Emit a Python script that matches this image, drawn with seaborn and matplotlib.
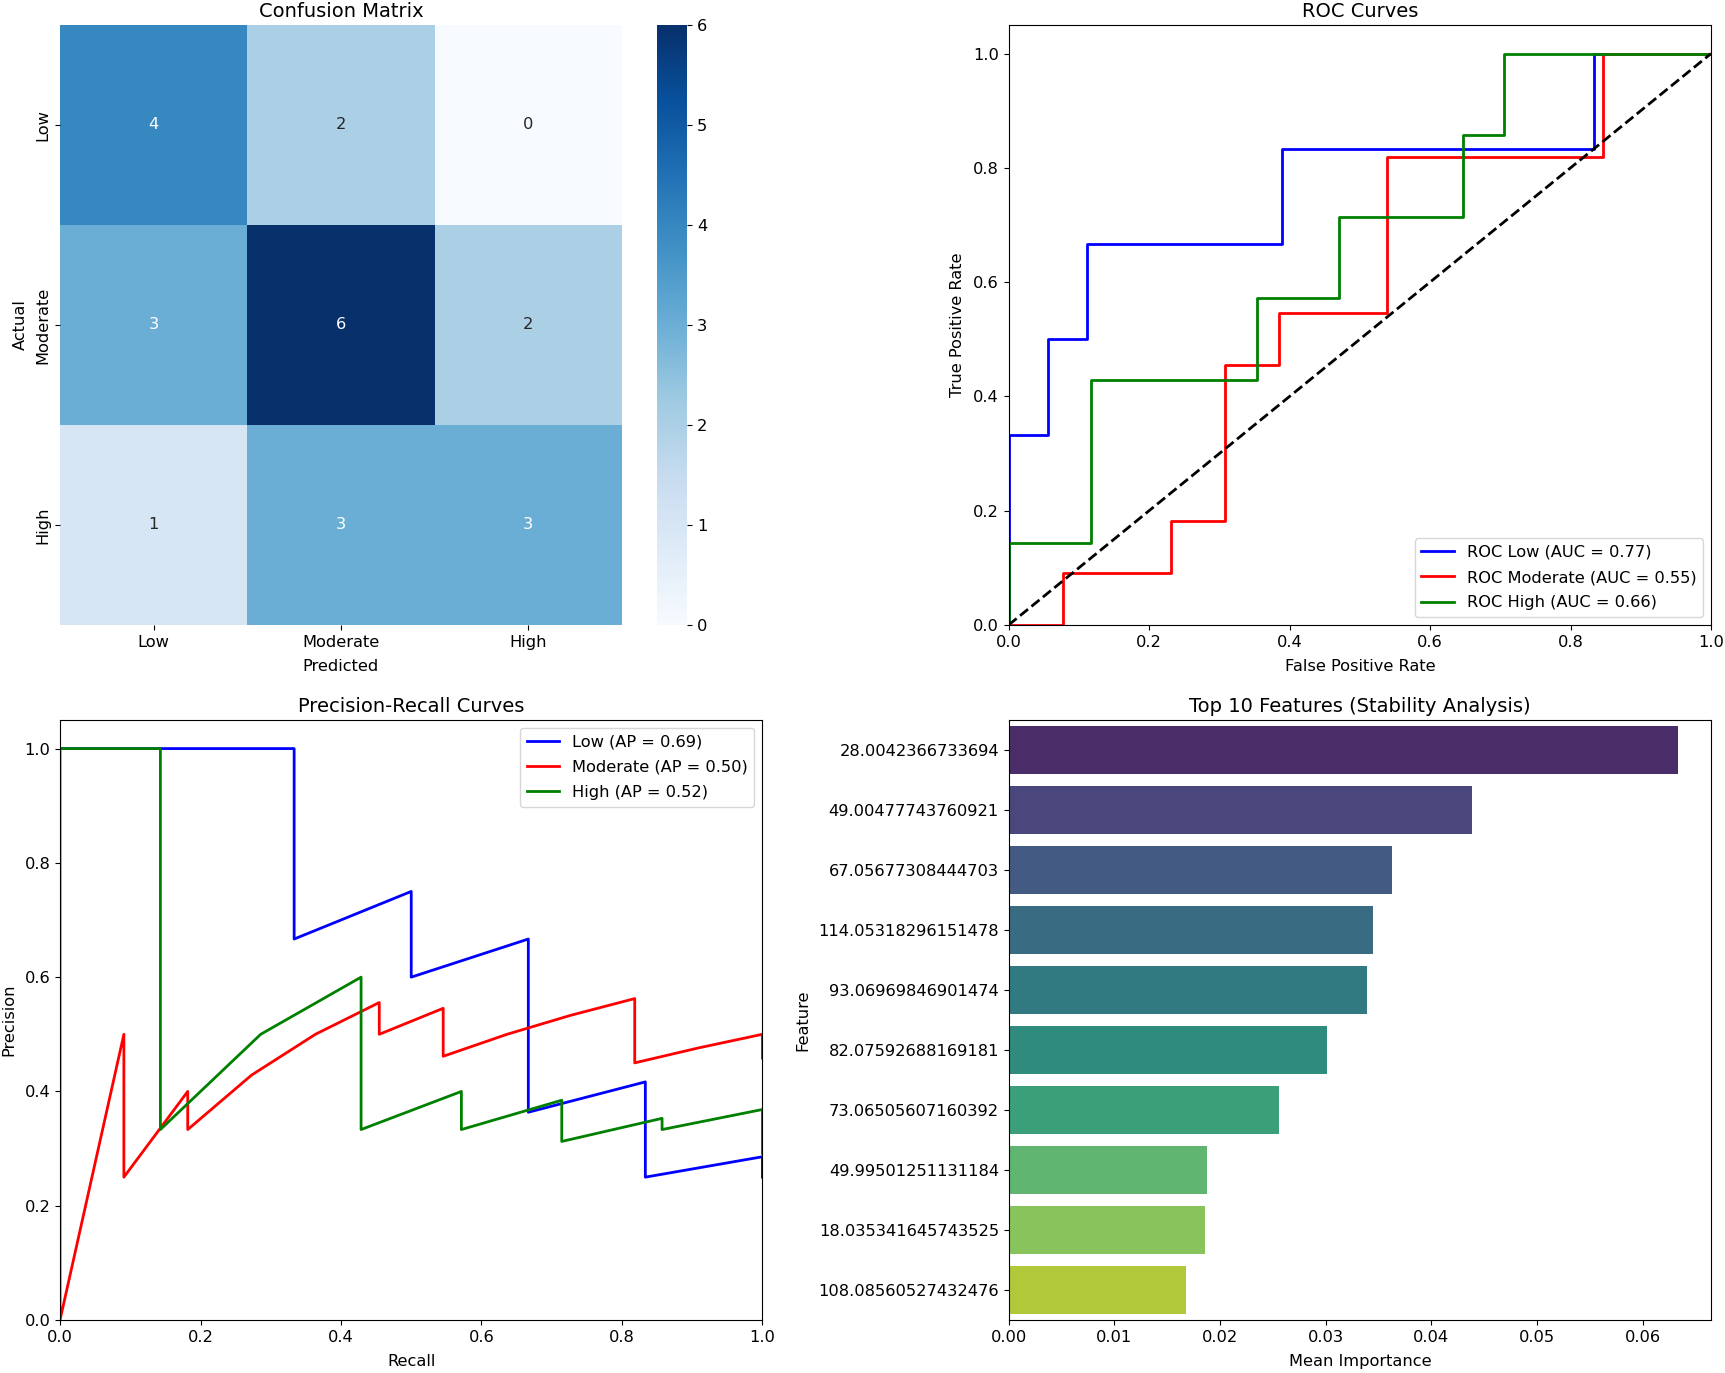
import matplotlib
matplotlib.use("Agg")
import matplotlib.pyplot as plt
import seaborn as sns
import numpy as np
import pandas as pd

# class names and confusion matrix counts
classes = ["Low", "Moderate", "High"]
cm = np.array([[4, 2, 0],
               [3, 6, 2],
               [1, 3, 3]])

# ROC curve vertices
roc_low_fpr = [0, 0, 0.0556, 0.0556, 0.1111, 0.1111, 0.3889, 0.3889, 0.8333, 0.8333, 1.0]
roc_low_tpr = [0, 0.3333, 0.3333, 0.5, 0.5, 0.6667, 0.6667, 0.8333, 0.8333, 1.0, 1.0]
roc_mod_fpr = [0, 0.0769, 0.0769, 0.2308, 0.2308, 0.3077, 0.3077, 0.3846, 0.3846,
               0.5385, 0.5385, 0.8462, 0.8462, 1.0]
roc_mod_tpr = [0, 0, 0.0909, 0.0909, 0.1818, 0.1818, 0.4545, 0.4545, 0.5455,
               0.5455, 0.8182, 0.8182, 1.0, 1.0]
roc_high_fpr = [0, 0, 0.1176, 0.1176, 0.3529, 0.3529, 0.4706, 0.4706, 0.6471,
                0.6471, 0.7059, 0.7059, 1.0]
roc_high_tpr = [0, 0.1429, 0.1429, 0.4286, 0.4286, 0.5714, 0.5714, 0.7143, 0.7143,
                0.8571, 0.8571, 1.0, 1.0]
auc_values = [0.77, 0.55, 0.66]

# precision-recall vertices
pr_low_rec = [0, 0.3333, 0.3333, 0.5, 0.5, 0.6667, 0.6667, 0.8333, 0.8333, 1.0, 1.0]
pr_low_prec = [1.0, 1.0, 0.6667, 0.75, 0.6, 0.6667, 0.3636, 0.4167, 0.25, 0.2857, 0.25]
pr_mod_rec = [0, 0, 0.0909, 0.0909, 0.1818, 0.1818, 0.2727, 0.3636, 0.4545, 0.4545,
              0.5455, 0.5455, 0.6364, 0.7273, 0.8182, 0.8182, 0.9091, 1.0, 1.0]
pr_mod_prec = [1.0, 0, 0.5, 0.25, 0.4, 0.3333, 0.4286, 0.5, 0.5556, 0.5,
               0.5455, 0.4615, 0.5, 0.5333, 0.5625, 0.45, 0.4762, 0.5, 0.4583]
pr_high_rec = [0, 0.1429, 0.1429, 0.2857, 0.4286, 0.4286, 0.5714, 0.5714, 0.7143,
               0.7143, 0.8571, 0.8571, 1.0, 1.0]
pr_high_prec = [1.0, 1.0, 0.3333, 0.5, 0.6, 0.3333, 0.4, 0.3333, 0.3846,
                0.3125, 0.3529, 0.3333, 0.3684, 0.2917]
ap_values = [0.69, 0.50, 0.52]

# top 10 features
features = ["28.0042366733694", "49.00477743760921", "67.05677308444703",
            "114.05318296151478", "93.06969846901474", "82.07592688169181",
            "73.06505607160392", "49.99501251131184", "18.035341645743525",
            "108.08560527432476"]
importance = [0.0633, 0.0438, 0.0363, 0.0345, 0.0339, 0.0301, 0.0256, 0.0188, 0.0186, 0.0168]

colors = ["blue", "red", "green"]

plt.rcParams["font.size"] = 11.7
plt.rcParams["legend.labelspacing"] = 0.63

fig, axes = plt.subplots(2, 2, figsize=(17.25, 13.73), dpi=100)
plt.subplots_adjust(left=0.0348, right=0.9919, bottom=0.0386, top=0.9818,
                    wspace=0.3505, hspace=0.1584)

# Confusion matrix
ax = axes[0, 0]
cm_df = pd.DataFrame(cm, index=classes, columns=classes)
sns.heatmap(cm_df, annot=True, fmt="d", cmap="Blues", ax=ax)
ax.set_title("Confusion Matrix")
ax.set_xlabel("Predicted", labelpad=6.5)
ax.set_ylabel("Actual", labelpad=5.5)

# ROC curves
ax = axes[0, 1]
roc_data = [(roc_low_fpr, roc_low_tpr), (roc_mod_fpr, roc_mod_tpr), (roc_high_fpr, roc_high_tpr)]
for (fpr, tpr), c, name, auc in zip(roc_data, colors, classes, auc_values):
    sns.lineplot(x=fpr, y=tpr, sort=False, estimator=None, color=c, lw=2,
                 label=f"ROC {name} (AUC = {auc:.2f})", ax=ax)
ax.plot([0, 1], [0, 1], "k--", lw=2)
ax.set_xlim(0.0, 1.0)
ax.set_ylim(0.0, 1.05)
ax.set_xlabel("False Positive Rate", labelpad=6.5)
ax.set_ylabel("True Positive Rate", labelpad=5.5)
ax.set_title("ROC Curves")
ax.legend(loc="lower right")

# Precision-Recall curves
ax = axes[1, 0]
pr_data = [(pr_low_rec, pr_low_prec), (pr_mod_rec, pr_mod_prec), (pr_high_rec, pr_high_prec)]
for (rec, prec), c, name, ap in zip(pr_data, colors, classes, ap_values):
    sns.lineplot(x=rec, y=prec, sort=False, estimator=None, color=c, lw=2,
                 label=f"{name} (AP = {ap:.2f})", ax=ax)
ax.set_xlim(0.0, 1.0)
ax.set_ylim(0.0, 1.05)
ax.set_xlabel("Recall", labelpad=6.5)
ax.set_ylabel("Precision", labelpad=5.5)
ax.set_title("Precision-Recall Curves")
ax.legend(loc="upper right")

# Feature importance
ax = axes[1, 1]
sns.barplot(x=importance, y=features, hue=features, palette="viridis", legend=False, ax=ax)
ax.set_xlabel("Mean Importance", labelpad=6.5)
ax.set_ylabel("Feature", labelpad=5.5)
ax.set_title("Top 10 Features (Stability Analysis)")

plt.savefig("out.png", dpi=100)
